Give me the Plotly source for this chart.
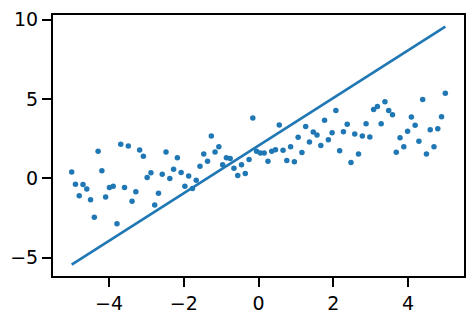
import plotly.graph_objects as go

x_vals = [-5.000, -4.899, -4.798, -4.697, -4.596, -4.495, -4.394, -4.293, -4.192, -4.091,
          -3.990, -3.889, -3.788, -3.687, -3.586, -3.485, -3.384, -3.283, -3.182, -3.081,
          -2.980, -2.879, -2.778, -2.677, -2.576, -2.475, -2.374, -2.273, -2.172, -2.071,
          -1.970, -1.869, -1.768, -1.667, -1.566, -1.465, -1.364, -1.263, -1.162, -1.061,
          -0.960, -0.859, -0.758, -0.657, -0.556, -0.455, -0.354, -0.253, -0.152, -0.051,
          0.051, 0.152, 0.253, 0.354, 0.455, 0.556, 0.657, 0.758, 0.859, 0.960,
          1.061, 1.162, 1.263, 1.364, 1.465, 1.566, 1.667, 1.768, 1.869, 1.970,
          2.071, 2.172, 2.273, 2.374, 2.475, 2.576, 2.677, 2.778, 2.879, 2.980,
          3.081, 3.182, 3.283, 3.384, 3.485, 3.586, 3.687, 3.788, 3.889, 3.990,
          4.091, 4.192, 4.293, 4.394, 4.495, 4.596, 4.697, 4.798, 4.899, 5.000]

y_vals = [0.41, -0.37, -1.09, -0.39, -0.66, -1.34, -2.45, 1.71, 0.49, -1.17,
          -0.58, -0.49, -2.86, 2.16, -0.58, 2.04, -1.44, -0.84, 1.79, 1.40,
          0.06, 0.35, -1.67, -0.93, 0.27, 1.67, 0.00, 0.58, 1.30, 0.37,
          -0.49, 0.16, -0.64, -0.12, 0.76, 1.54, 1.09, 2.67, 1.67, 2.00,
          0.86, 1.30, 1.26, 0.64, 0.19, 0.86, 0.31, 1.19, 3.81, 1.71,
          1.60, 1.60, 1.09, 1.71, 1.81, 3.37, 1.77, 1.13, 2.00, 1.05,
          2.59, 1.63, 3.27, 2.30, 2.92, 2.74, 2.08, 3.66, 2.43, 2.88,
          4.28, 1.75, 2.94, 3.42, 1.01, 2.80, 1.54, 2.67, 3.44, 2.61,
          4.34, 4.53, 3.44, 4.84, 4.28, 4.01, 1.65, 2.57, 2.00, 2.98,
          3.87, 3.35, 2.35, 4.98, 1.54, 3.07, 2.00, 3.13, 3.89, 5.37]

line_x = [-5.0, 5.0]
line_y = [-5.43, 9.57]

x_ticks = [-4, -2, 0, 2, 4]
y_ticks = [-5, 0, 5, 10]

color = "#1f77b4"

fig = go.Figure()
fig.add_trace(go.Scatter(x=x_vals, y=y_vals, mode="markers",
                         marker=dict(color=color, size=5.5, line=dict(width=0)),
                         showlegend=False))
fig.add_trace(go.Scatter(x=line_x, y=line_y, mode="lines",
                         line=dict(color=color, width=2.6), showlegend=False))

axis_common = dict(showgrid=False, zeroline=False, showline=True, linecolor="black",
                   linewidth=2, mirror=True, ticks="outside", ticklen=9, tickwidth=2,
                   tickcolor="black", tickfont=dict(family="DejaVu Sans", size=19, color="black"))

fig.update_xaxes(range=[-5.5, 5.5], tickvals=x_ticks, **axis_common)
fig.update_yaxes(range=[-6.15, 10.3], tickvals=y_ticks, **axis_common)

fig.update_layout(width=474, height=322, margin=dict(l=53, r=8, t=12, b=45),
                  plot_bgcolor="white", paper_bgcolor="white")

fig.write_html("out.html")
